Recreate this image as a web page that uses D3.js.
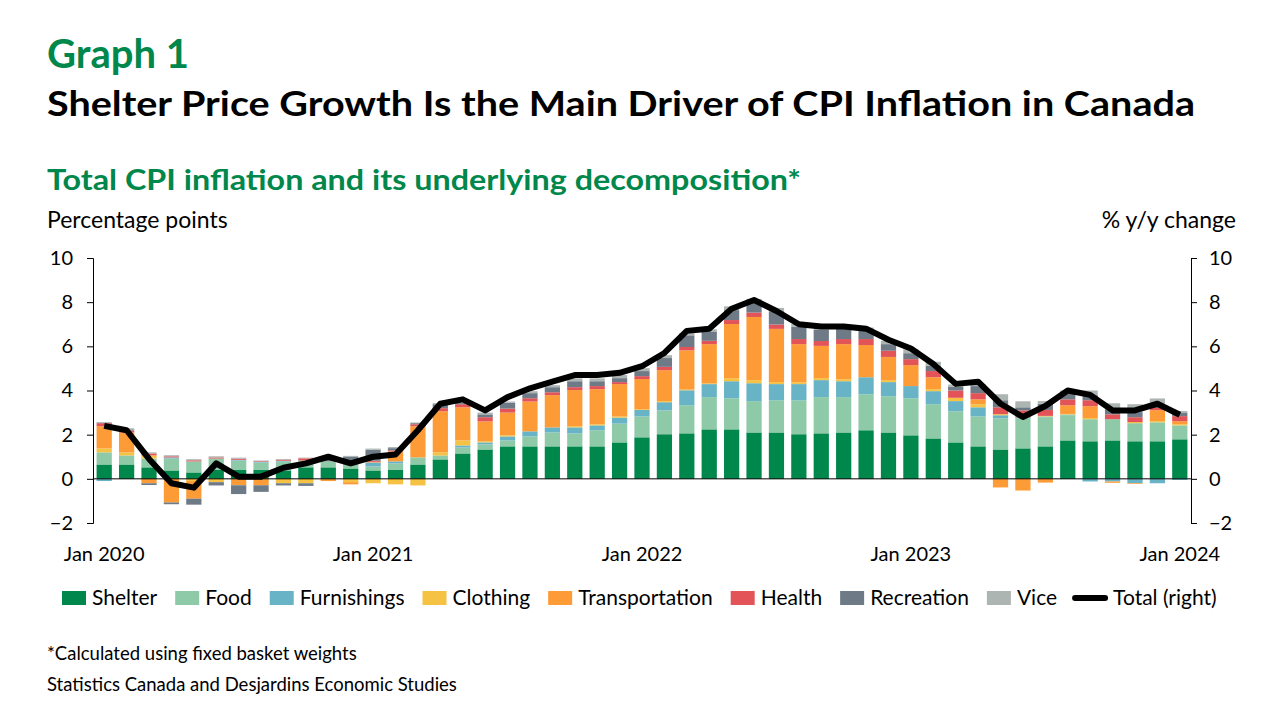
<!DOCTYPE html>
<html>
<head>
  <meta charset="utf-8">
  <script src="https://d3js.org/d3.v7.min.js"></script>
  <style>
    body { margin: 0; background: #fff; }
    text { font-family: Lato, "Open Sans", sans-serif; }
  </style>
</head>
<body>
  <div id="chartholder"></div>
  <script>
    // Months Jan 2020 .. Jan 2024
    var months = d3.range(49);
    var tickLabels = ["Jan 2020", "Jan 2021", "Jan 2022", "Jan 2023", "Jan 2024"];

    var shelter = [0.65,0.65,0.52,0.38,0.29,0.42,0.42,0.42,0.38,0.52,0.52,0.47,
      0.38,0.42,0.65,0.88,1.15,1.33,1.47,1.47,1.47,1.47,1.47,1.65,
      1.88,2.02,2.06,2.24,2.24,2.1,2.1,2.02,2.06,2.1,2.2,2.1,
      1.97,1.83,1.65,1.47,1.33,1.38,1.47,1.74,1.7,1.74,1.7,1.7,1.79];
    var food = [0.55,0.41,0.4,0.54,0.5,0.5,0.41,0.32,0.41,0.31,0.27,0.22,
      0.18,0.28,0.32,0.18,0.27,0.23,0.27,0.45,0.63,0.59,0.73,0.85,
      0.95,1.08,1.27,1.46,1.41,1.42,1.46,1.54,1.64,1.6,1.63,1.64,
      1.68,1.55,1.41,1.36,1.41,1.36,1.32,1.14,1.0,0.96,0.82,0.86,0.63];
    var furnishings = [-0.1,0,0,0.05,0,0,0.03,0.03,0.03,0,0,0.05,
      0.18,0.09,0,0,0.09,0.09,0.18,0.23,0.23,0.27,0.22,0.27,
      0.29,0.37,0.68,0.59,0.77,0.81,0.73,0.73,0.77,0.72,0.77,0.64,
      0.55,0.59,0.46,0.41,0.14,0.05,0.03,0.03,-0.12,-0.12,-0.2,-0.2,-0.05];
    var clothing = [0.18,0.14,0.14,0,-0.1,-0.15,0,0,-0.2,-0.2,0,-0.15,
      -0.2,-0.25,-0.3,0.14,0.23,0.05,0.05,0,0,0.05,0.05,0.05,
      0.03,0.05,0.03,0.03,0.14,0.14,0.09,0.08,0.09,0.09,0,0.09,
      0,0.09,0.15,0.14,0.05,0,0.03,0.03,0.05,0,0.05,0.05,0.05];
    var transportation = [1.0,0.9,-0.2,-1.07,-0.8,0,-0.29,-0.29,0,0,-0.1,-0.1,
      0.03,0.45,1.41,1.86,1.5,0.9,1.03,1.35,1.46,1.64,1.59,1.47,
      1.37,1.4,1.78,1.78,2.45,2.86,2.41,1.73,1.46,1.59,1.46,1.05,
      0.95,0.54,0,0.22,-0.39,-0.53,-0.17,0.39,0.54,-0.06,-0.03,0.5,0.14];
    var health = [0.14,0.09,0.09,0.05,0.05,0.05,0.05,0.03,0.05,0.1,0,0.05,
      0.05,0.05,0.09,0.14,0.14,0.19,0.18,0.15,0.13,0.13,0.14,0.09,
      0.13,0.15,0.15,0.15,0.18,0.2,0.2,0.23,0.22,0.23,0.27,0.28,
      0.27,0.28,0.33,0.28,0.31,0.31,0.27,0.27,0.27,0.22,0.22,0.1,0.23];
    var recreation = [0.03,0.05,-0.08,-0.08,-0.27,-0.15,-0.4,-0.3,-0.1,-0.12,0.2,0.2,
      0.5,0.1,0.05,0.18,0.05,0.13,0.27,0.23,0.23,0.27,0.22,0.18,
      0.23,0.4,0.53,0.4,0.45,0.47,0.6,0.56,0.5,0.46,0.37,0.3,
      0.27,0.24,0.18,0.32,0.32,0.14,0.28,0.28,0.23,0.23,0.23,0.2,0.14];
    var vice = [0.02,0.05,0.05,0.05,0.05,0.05,0.05,0.03,0.03,0.03,0.05,0.05,
      0.05,0.05,0.03,0.05,0.03,0.08,0.05,0.09,0.09,0.13,0.13,0.14,
      0.13,0.13,0.1,0.12,0.17,0.15,0.15,0.12,0.12,0.2,0.15,0.15,
      0.18,0.18,0.09,0.09,0.27,0.27,0.12,0.12,0.21,0.27,0.36,0.23,0.09];
    var total = [2.4,2.2,0.9,-0.2,-0.4,0.7,0.1,0.1,0.5,0.7,1.0,0.7,
      1.0,1.1,2.2,3.4,3.6,3.1,3.7,4.1,4.4,4.7,4.7,4.8,
      5.1,5.7,6.7,6.8,7.7,8.1,7.6,7.0,6.9,6.9,6.8,6.3,
      5.9,5.2,4.3,4.4,3.4,2.8,3.3,4.0,3.8,3.1,3.1,3.4,2.9];

    var series = [
      { key: "Shelter", values: shelter, color: "#00874b" },
      { key: "Food", values: food, color: "#8fcaa8" },
      { key: "Furnishings", values: furnishings, color: "#69b3c6" },
      { key: "Clothing", values: clothing, color: "#f5c243" },
      { key: "Transportation", values: transportation, color: "#fd9b36" },
      { key: "Health", values: health, color: "#e25458" },
      { key: "Recreation", values: recreation, color: "#6e7b87" },
      { key: "Vice", values: vice, color: "#adb5b3" }
    ];

    var width = 1280, height = 720;
    var plotLeft = 93, plotRight = 1191, plotTop = 258, plotBottom = 523;
    var green = "#00874b";

    var svg = d3.select("#chartholder").append("svg")
      .attr("width", width).attr("height", height);

    // Titles
    svg.append("text").attr("x", 47).attr("y", 68).attr("fill", green)
      .attr("font-size", 40).attr("font-weight", 700).text("Graph 1");
    svg.append("text").attr("x", 47).attr("y", 116).attr("fill", "#000")
      .attr("font-size", 35).attr("font-weight", 700)
      .attr("textLength", 1148).attr("lengthAdjust", "spacingAndGlyphs")
      .text("Shelter Price Growth Is the Main Driver of CPI Inflation in Canada");
    svg.append("text").attr("x", 47).attr("y", 190).attr("fill", green)
      .attr("font-size", 29).attr("font-weight", 700)
      .attr("textLength", 754).attr("lengthAdjust", "spacingAndGlyphs")
      .text("Total CPI inflation and its underlying decomposition*");
    svg.append("text").attr("x", 47).attr("y", 228).attr("font-size", 23)
      .text("Percentage points");
    svg.append("text").attr("x", 1236).attr("y", 228).attr("font-size", 23)
      .attr("text-anchor", "end").text("% y/y change");

    // Scales
    var x = d3.scaleBand().domain(months).range([plotLeft, plotRight]).paddingInner(0.32).paddingOuter(0.16);
    var y = d3.scaleLinear().domain([-2, 10]).range([plotBottom, plotTop]);

    // Stacked data
    var rows = months.map(function(i) {
      var r = { i: i };
      series.forEach(function(s) { r[s.key] = s.values[i]; });
      return r;
    });
    var stack = d3.stack().keys(series.map(function(s) { return s.key; }))
      .offset(d3.stackOffsetDiverging);
    var stacked = stack(rows);

    svg.append("g").selectAll("g").data(stacked).join("g")
      .attr("fill", function(d, k) { return series[k].color; })
      .selectAll("rect").data(function(d) { return d; }).join("rect")
      .attr("x", function(d) { return x(d.data.i); })
      .attr("width", x.bandwidth())
      .attr("y", function(d) { return y(Math.max(d[0], d[1])); })
      .attr("height", function(d) { return Math.abs(y(d[0]) - y(d[1])); });

    // Zero line
    svg.append("line").attr("x1", plotLeft).attr("x2", plotRight)
      .attr("y1", y(0)).attr("y2", y(0)).attr("stroke", "#000").attr("stroke-width", 1);

    // Axes
    var leftAxis = svg.append("g").attr("transform", "translate(" + plotLeft + ",0)")
      .call(d3.axisLeft(y).tickValues(d3.range(-2, 11, 2)).tickSize(6).tickPadding(14));
    var rightAxis = svg.append("g").attr("transform", "translate(" + plotRight + ",0)")
      .call(d3.axisRight(y).tickValues(d3.range(-2, 11, 2)).tickSize(6).tickPadding(12));
    [leftAxis, rightAxis].forEach(function(a) {
      a.selectAll("text").attr("font-size", 20).attr("fill", "#000")
        .attr("font-family", "Lato, 'Open Sans', sans-serif");
      a.selectAll("line,path").attr("stroke", "#000");
    });

    // X labels
    svg.append("g").selectAll("text").data(tickLabels).join("text")
      .attr("x", function(d, k) { return x(k * 12) + x.bandwidth() / 2; })
      .attr("y", 561).attr("font-size", 20).attr("text-anchor", "middle")
      .text(function(d) { return d; });

    // Total line
    var line = d3.line()
      .x(function(d, i) { return x(i) + x.bandwidth() / 2; })
      .y(function(d) { return y(d); });
    svg.append("path").datum(total).attr("d", line)
      .attr("fill", "none").attr("stroke", "#000").attr("stroke-width", 6)
      .attr("stroke-linejoin", "round");

    // Legend
    var legendItems = series.map(function(s) { return { key: s.key, color: s.color, line: false }; });
    legendItems.push({ key: "Total (right)", color: "#000", line: true });
    var lx = 62;
    var lg = svg.append("g");
    legendItems.forEach(function(it) {
      if (it.line) {
        lg.append("line").attr("x1", lx).attr("x2", lx + 30).attr("y1", 598).attr("y2", 598)
          .attr("stroke", "#000").attr("stroke-width", 6).attr("stroke-linecap", "round");
        lx += 38;
      } else {
        lg.append("rect").attr("x", lx).attr("y", 591).attr("width", 24).attr("height", 14).attr("fill", it.color);
        lx += 30;
      }
      var t = lg.append("text").attr("x", lx).attr("y", 605).attr("font-size", 21).text(it.key);
      lx += t.node().getComputedTextLength() + 18;
    });

    // Notes
    svg.append("text").attr("x", 47).attr("y", 660).attr("font-size", 18.5)
      .text("*Calculated using fixed basket weights");
    svg.append("text").attr("x", 47).attr("y", 691).attr("font-size", 18.5)
      .text("Statistics Canada and Desjardins Economic Studies");
  </script>
</body>
</html>
